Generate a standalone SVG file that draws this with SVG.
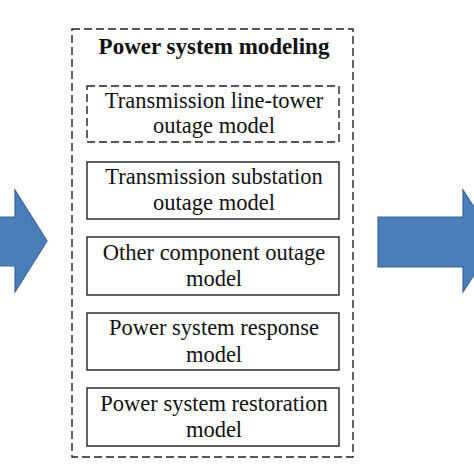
<svg xmlns="http://www.w3.org/2000/svg" width="474" height="474" viewBox="0 0 474 474">
<style>
.arrow{fill:#4a7ebb;stroke:#3a659a;stroke-width:1.2}
.box{fill:#fff;stroke:#222;stroke-width:1.4}
.dash{fill:none;stroke:#222;stroke-width:1.4;stroke-dasharray:8 4}
.t{font-family:"Liberation Serif","Times New Roman",serif;font-size:22.5px;fill:#111;text-anchor:middle}
.title{font-weight:bold;font-size:23px}
</style>
<rect width="474" height="474" fill="#fff"/>
<g id="connectors">
<polygon id="arrow-left" class="arrow" points="-10,217 15,217 15,190 47,241 15,292 15,266 -10,266"/>
<polygon id="arrow-right" class="arrow" points="378,217 463,217 463,190 496,241 463,292 463,267 378,267"/>
</g>
<g id="group-power-system-modeling">
<rect class="dash" x="72" y="29" width="281" height="428"/>
<text class="t title" x="214" y="54">Power system modeling</text>
</g>
<g id="node-line-tower">
<rect class="dash" x="87" y="86" width="252" height="56"/>
<text class="t" x="214" y="108">Transmission line-tower</text>
<text class="t" x="214" y="133">outage model</text>
</g>
<g id="node-substation">
<rect class="box" x="87" y="162" width="252" height="57"/>
<text class="t" x="214" y="184">Transmission substation</text>
<text class="t" x="214" y="210">outage model</text>
</g>
<g id="node-other">
<rect class="box" x="87" y="237" width="252" height="58"/>
<text class="t" x="214" y="260">Other component outage</text>
<text class="t" x="214" y="286">model</text>
</g>
<g id="node-response">
<rect class="box" x="87" y="313" width="252" height="57"/>
<text class="t" x="214" y="335">Power system response</text>
<text class="t" x="214" y="362">model</text>
</g>
<g id="node-restoration">
<rect class="box" x="87" y="388" width="252" height="58"/>
<text class="t" x="214" y="411">Power system restoration</text>
<text class="t" x="214" y="437">model</text>
</g>
</svg>
